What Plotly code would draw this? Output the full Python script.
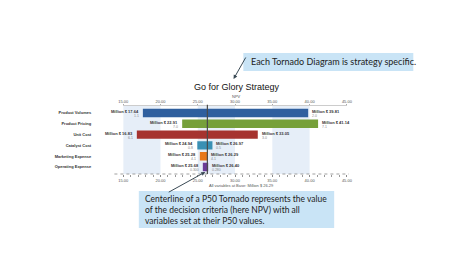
import plotly.graph_objects as go

W, H = 474, 266

variables = ["Product Volumes", "Product Pricing", "Unit Cost", "Catalyst Cost",
             "Marketing Expense", "Operating Expense"]
low_npv = [17.64, 22.91, 16.83, 24.94, 25.28, 25.68]
high_npv = [39.81, 41.14, 33.05, 26.97, 26.29, 26.40]
low_input = ["1.1", "7.0", "6.1", "0.8", "4.1", "0.300"]
high_input = ["2.0", "7.1", "3.0", "0.5", "4.1", "0.280"]
colors = ["#2f5f9e", "#76a03a", "#a6332f", "#3a90b4", "#e7781c", "#6a3a97"]
base_npv = 26.29
tick_vals = [15, 20, 25, 30, 35, 40, 45]
tick_text = ["15.00", "20.00", "25.00", "30.00", "35.00", "40.00", "45.00"]

def px(x):
    return x / W

def py(y):
    return 1 - y / H

fig = go.Figure()

for i, v in enumerate(variables):
    lo, hi = min(low_npv[i], high_npv[i]), max(low_npv[i], high_npv[i])
    fig.add_trace(go.Bar(
        y=[i], x=[hi - lo], base=[lo], orientation="h",
        marker=dict(color=colors[i], line=dict(width=0)),
        width=0.78, showlegend=False, hoverinfo="skip"))

xdom = [px(121), px(350)]
ydom = [py(174), py(106)]

fig.update_layout(
    width=W, height=H, autosize=False,
    margin=dict(l=0, r=0, t=0, b=0),
    paper_bgcolor="white", plot_bgcolor="rgba(0,0,0,0)",
    barmode="overlay",
    xaxis=dict(domain=xdom, range=[15, 45], tickvals=tick_vals, ticktext=tick_text,
               tickfont=dict(size=4, color="#555", family="Liberation Sans"),
               showgrid=False, zeroline=False, showline=False,
               ticks="outside", ticklen=2, tickcolor="#888", side="bottom",
               minor=dict(ticks="outside", dtick=1, ticklen=1.5, tickcolor="#999")),
    xaxis2=dict(domain=xdom, range=[15, 45], tickvals=tick_vals, ticktext=tick_text,
                overlaying="x", side="top", anchor="y",
                tickfont=dict(size=4, color="#555", family="Liberation Sans"),
                showgrid=False, zeroline=False, showline=True, linecolor="#ccc",
                linewidth=0.6, ticks="outside", ticklen=1, tickcolor="#aaa",
                ticklabelstandoff=0),
    yaxis=dict(domain=ydom, range=[5.65, -0.65], tickvals=list(range(len(variables))),
               ticktext=["<b>%s</b>" % v for v in variables],
               tickfont=dict(size=4, color="#333", family="Liberation Sans"),
               showgrid=False, zeroline=False, showline=False, ticks="",
               ticklabelstandoff=31),
    font=dict(family="Liberation Sans"),
)
# dummy trace to activate xaxis2
fig.add_trace(go.Scatter(x=[15], y=[0], xaxis="x2", yaxis="y", mode="markers",
                         marker=dict(opacity=0), showlegend=False, hoverinfo="skip"))

shapes = []
# alternating background bands
for k, (a, b) in enumerate(zip(tick_vals[:-1], tick_vals[1:])):
    if k % 2 == 0:
        shapes.append(dict(type="rect", xref="x", yref="paper", x0=a, x1=b,
                           y0=ydom[0], y1=ydom[1], fillcolor="#e6eef8",
                           line=dict(width=0), layer="below"))
# bottom dashed axis line
shapes.append(dict(type="line", xref="paper", yref="paper", x0=px(112), x1=px(352),
                   y0=ydom[0], y1=ydom[0], line=dict(color="#888", width=0.8, dash="dot")))
# centerline
shapes.append(dict(type="line", xref="x", yref="paper", x0=base_npv, x1=base_npv,
                   y0=ydom[0], y1=ydom[1] + 0.005, line=dict(color="#4a4a4a", width=1.2)))
# annotation boxes
shapes.append(dict(type="rect", xref="paper", yref="paper", x0=px(244), x1=px(418),
                   y0=py(71), y1=py(53), fillcolor="#c9e4f6", line=dict(width=0)))
shapes.append(dict(type="rect", xref="paper", yref="paper", x0=px(137), x1=px(337),
                   y0=py(228), y1=py(191), fillcolor="#c9e4f6", line=dict(width=0)))

annotations = []
for i in range(len(variables)):
    lo_v, hi_v = low_npv[i], high_npv[i]
    lo_t, hi_t = low_input[i], high_input[i]
    if lo_v > hi_v:
        lo_v, hi_v, lo_t, hi_t = hi_v, lo_v, hi_t, lo_t
    for xv, txt, sub, anchor, shift in [(lo_v, lo_v, lo_t, "right", -2),
                                        (hi_v, hi_v, hi_t, "left", 2)]:
        annotations.append(dict(x=xv, y=i, xref="x", yref="y", text="<b>Million $ %.2f</b>" % txt,
                                showarrow=False, xanchor=anchor, yanchor="middle",
                                xshift=shift, yshift=1.5,
                                font=dict(size=4, color="#333", family="Liberation Sans")))
        annotations.append(dict(x=xv, y=i, xref="x", yref="y", text=sub,
                                showarrow=False, xanchor=anchor, yanchor="middle",
                                xshift=shift, yshift=-3,
                                font=dict(size=3.5, color="#888", family="Liberation Sans")))

annotations += [
    dict(x=px(238), y=py(87), xref="paper", yref="paper", text="Go for Glory Strategy",
         showarrow=False, xanchor="center", yanchor="middle",
         font=dict(size=9, color="#111", family="Liberation Sans")),
    dict(x=px(237), y=py(96), xref="paper", yref="paper", text="NPV",
         showarrow=False, xanchor="center", yanchor="middle",
         font=dict(size=4, color="#555", family="Liberation Sans")),
    dict(x=base_npv, y=py(185), xref="x", yref="paper",
         text="All variables at Base: Million $ %.2f" % base_npv,
         showarrow=False, xanchor="left", yanchor="middle",
         font=dict(size=4, color="#555", family="Liberation Sans")),
    dict(x=px(250), y=py(62), xref="paper", yref="paper",
         text="Each Tornado Diagram is strategy specific.",
         showarrow=False, xanchor="left", yanchor="middle",
         font=dict(size=9, color="#222", family="Lato")),
    dict(x=px(141), y=py(209.5), xref="paper", yref="paper",
         text="Centerline of a P50 Tornado represents the value<br>of the decision criteria (here NPV) with all<br>variables set at their P50 values.",
         showarrow=False, xanchor="left", yanchor="middle", align="left",
         font=dict(size=8.5, color="#222", family="Lato")),
    # arrows
    dict(x=px(234), y=py(79), xref="paper", yref="paper", ax=247 - 234, ay=56 - 79,
         axref="pixel", ayref="pixel", text="", showarrow=True, arrowhead=2,
         arrowsize=0.8, arrowwidth=1, arrowcolor="#3a4a55"),
    dict(x=px(205), y=py(172), xref="paper", yref="paper", ax=167 - 205, ay=193 - 172,
         axref="pixel", ayref="pixel", text="", showarrow=True, arrowhead=2,
         arrowsize=0.8, arrowwidth=1, arrowcolor="#3a4a55"),
]

fig.update_layout(shapes=shapes, annotations=annotations)
fig.write_html("out.html")
